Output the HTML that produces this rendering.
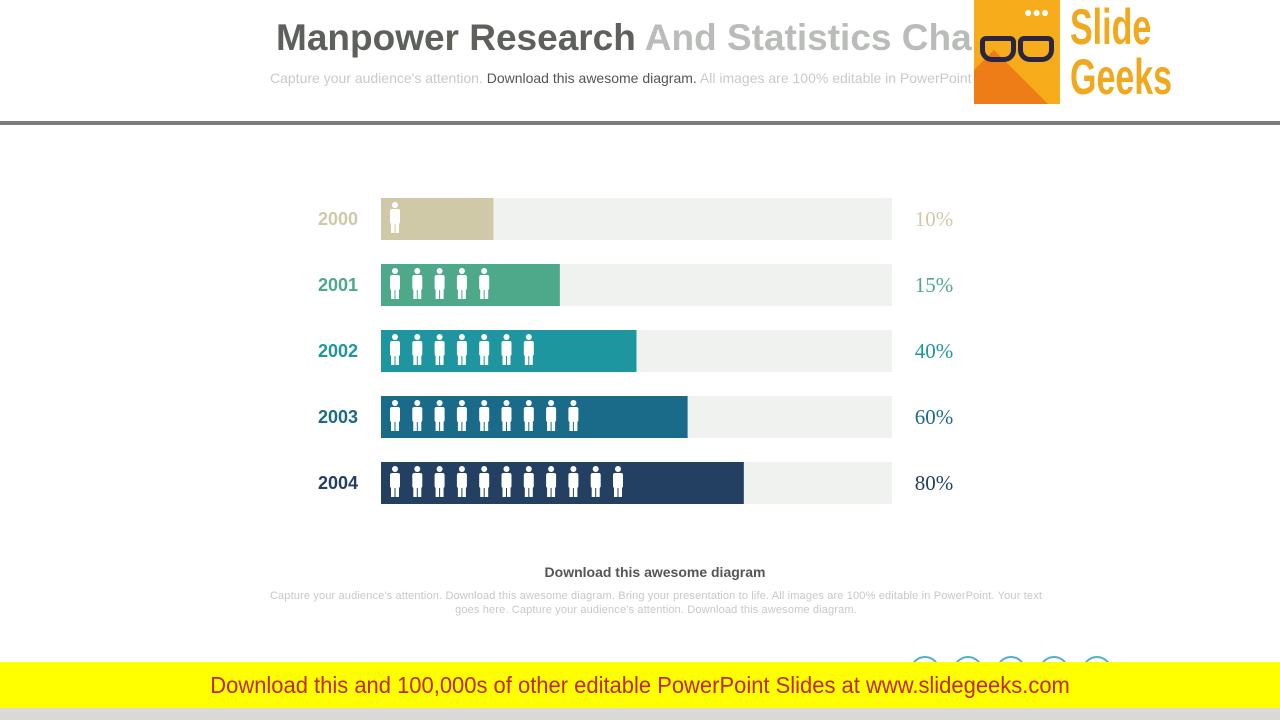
<!DOCTYPE html>
<html><head><meta charset="utf-8"><style>
body{margin:0;width:1280px;height:720px;overflow:hidden;background:#fff;font-family:"Liberation Sans",sans-serif;position:relative}
.abs{position:absolute}
</style></head><body>
<div class="abs" style="left:276px;top:17px;font-size:37px;font-weight:bold;color:#5e605c;white-space:nowrap">Manpower Research <span style="color:#b9bcb8">And Statistics Chart</span></div>
<div class="abs" style="left:270px;top:70px;font-size:14px;color:#c8cac8;white-space:nowrap">Capture your audience's attention. <span style="color:#555">Download this awesome diagram.</span> All images are 100% editable in PowerPoint</div>
<div class="abs" style="left:972px;top:0;width:208px;height:110px;background:#fff;z-index:2">
  <div class="abs" style="left:2px;top:0;width:86px;height:104px;background:#f7ac1b;overflow:hidden">
    <div class="abs" style="left:20px;top:50px;width:120px;height:120px;background:#ef7d17;transform:rotate(45deg);transform-origin:0 0"></div>
    <div class="abs" style="left:50px;top:4px;color:#fff;font-size:14px">●●●</div>
    <div class="abs" style="left:6px;top:36px;width:36px;height:26px;border:5px solid #2a2540;border-radius:6px 6px 12px 12px;box-sizing:border-box"></div>
    <div class="abs" style="left:44px;top:36px;width:36px;height:26px;border:5px solid #2a2540;border-radius:6px 6px 12px 12px;box-sizing:border-box"></div>
  </div>
  <div class="abs" style="left:98px;top:2px;font-size:50px;line-height:50px;font-weight:bold;color:#f0a81c;transform:scaleX(0.68);transform-origin:0 0">Slide<br>Geeks</div>
</div>
<div class="abs" style="left:0;top:121px;width:1280px;height:4px;background:#7b7d7b"></div>
<svg class="abs" style="left:0;top:0" width="1280" height="720" id="chart"></svg>
<div class="abs" style="left:0;width:1310px;top:564px;text-align:center;font-size:14px;font-weight:bold;color:#555">Download this awesome diagram</div>
<div class="abs" style="left:262px;width:788px;top:589px;text-align:center;font-size:11px;line-height:14px;color:#c6c8c6;letter-spacing:0.15px">Capture your audience's attention. Download this awesome diagram. Bring your presentation to life. All images are 100% editable in PowerPoint. Your text goes here. Capture your audience's attention. Download this awesome diagram.</div>
<div class="abs" style="left:910px;top:656px">
 <span style="position:absolute;left:0;width:26px;height:26px;border:2px solid #5aaecb;border-radius:50%"></span>
 <span style="position:absolute;left:43px;width:26px;height:26px;border:2px solid #5aaecb;border-radius:50%"></span>
 <span style="position:absolute;left:86px;width:26px;height:26px;border:2px solid #5aaecb;border-radius:50%"></span>
 <span style="position:absolute;left:129px;width:26px;height:26px;border:2px solid #5aaecb;border-radius:50%"></span>
 <span style="position:absolute;left:172px;width:26px;height:26px;border:2px solid #5aaecb;border-radius:50%"></span>
</div>
<div class="abs" style="left:0;top:662px;width:1280px;height:46px;background:#ffff00;text-align:center;font-size:23px;line-height:46px;color:#c0290e;white-space:nowrap"><span style="display:inline-block;transform:scaleX(0.955)">Download this and 100,000s of other editable PowerPoint Slides at www.slidegeeks.com</span></div>
<div class="abs" style="left:0;top:708px;width:1280px;height:12px;background:#d8dad8"></div>
<script>
const years=["2000","2001","2002","2003","2004"];
const percentLabels=[10,15,40,60,80];
const fillPercent=[22,35,50,60,71];
const peopleCount=[1,5,7,9,11];
const colors=["#cfc9a7","#4ea88a","#1e96a0","#1a6b8a","#233f62"];
const NS="http://www.w3.org/2000/svg";
const svg=document.getElementById('chart');
const x0=381,trackW=511,barH=42,y0=198,step=66;
const xScale=p=>trackW*p/100;
function mk(t,a,p){const e=document.createElementNS(NS,t);for(const k in a)e.setAttribute(k,a[k]);(p||svg).appendChild(e);return e;}
years.forEach((yr,i)=>{
  const y=y0+i*step;
  const tr=mk('rect',{x:x0,y:y,width:trackW,height:barH,fill:'#eff2ef'});
  
  
  const b=mk('rect',{x:x0,y:y,width:xScale(fillPercent[i]),height:barH,fill:colors[i]});
  
  
  for(let k=0;k<peopleCount[i];k++){
    const cx=395+k*22.3,g=mk('g',{fill:'#fff'});
    
    
    mk('circle',{cx:cx,cy:y+7,r:3},g);
    mk('rect',{x:cx-5,y:y+11,width:10,height:15,rx:2},g);
    mk('rect',{x:cx-4,y:y+24,width:3.5,height:11},g);
    mk('rect',{x:cx+0.5,y:y+24,width:3.5,height:11},g);
  }
  const t=mk('text',{x:338,y:y+27,'text-anchor':'middle','font-size':18,'font-weight':'bold',fill:colors[i],'font-family':'Liberation Sans, sans-serif'});
  t.textContent=yr;
  
  
  const v=mk('text',{x:934,y:y+28,'text-anchor':'middle','font-size':21,fill:colors[i],'font-family':'Liberation Serif, serif'});
  v.textContent=percentLabels[i]+'%';
  
  
});
</script>
</body></html>
